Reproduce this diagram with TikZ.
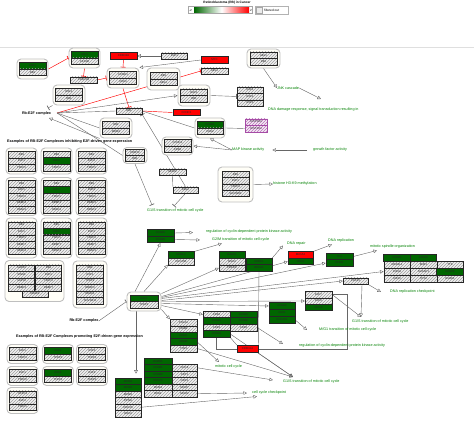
\documentclass[tikz,border=0pt]{standalone}
\usepackage{fontspec}
\setmainfont{Liberation Sans}
\usetikzlibrary{arrows.meta,patterns,calc}
\pgfdeclarelayer{bg}
\pgfsetlayers{bg,main}
\newcommand\genH[5][]{\node[hb,minimum width=#4pt,#1] (#2) at (#3) {#5};}
\newcommand\genG[5][]{\node[gb,minimum width=#4pt,#1] (#2) at (#3) {#5};}
\newcommand\genR[5][]{\node[rbx,minimum width=#4pt,#1] (#2) at (#3) {#5};}
\newcommand\genP[5][]{\node[pb,minimum width=#4pt,#1] (#2) at (#3) {#5};}
\newcommand\cpx[4]{\node[cplx,minimum width=#3pt,minimum height=#4pt] (#1) at (#2) {};}
\tikzset{
 gene/.style={draw=black!85, line width=0.3pt, inner sep=0pt, minimum height=6.5pt, font=\fontsize{2.8}{3}\selectfont, text=black!85},
 hb/.style={gene, preaction={fill=gray!12}, pattern=north east lines, pattern color=gray!75},
 gb/.style={gene, fill=green!40!black, line width=0.55pt},
 rbx/.style={gene, fill=red, line width=0.55pt},
 pb/.style={gene, draw=violet!70, preaction={fill=violet!8}, pattern=north east lines, pattern color=violet!55},
 cplx/.style={draw=gray!50, line width=0.9pt, fill=black!4!yellow!3!white, rounded corners=4pt, inner sep=0pt},
 lab/.style={text=green!50!black, font=\fontsize{3.7}{4}\selectfont, inner sep=0pt, anchor=west},
 hdr/.style={font=\bfseries\fontsize{3.7}{4}\selectfont, inner sep=0pt, anchor=west},
 con/.style={draw=black!60, line width=0.4pt},
 arr/.style={con, -{Triangle[open, length=3.5pt, width=3.5pt]}},
 inh/.style={con, -{Bar[width=5pt, line width=0.7pt]}},
 rinh/.style={draw=red, line width=0.45pt, -{Bar[width=5pt, line width=0.7pt]}},
}
\begin{document}
\begin{tikzpicture}[x=1pt,y=-1pt]
\useasboundingbox (0,0) rectangle (474,425);
% ---------- legend ----------
\node[font=\bfseries\fontsize{3.2}{3.5}\selectfont, inner sep=0pt] (title) at (227,2.5) {Retinoblastoma (RB) in Cancer};
\node[draw=gray!70, line width=0.3pt, minimum width=64pt, minimum height=7pt, inner sep=0pt] (legf) at (220,10) {};
\node[minimum width=55pt, minimum height=5pt, inner sep=0pt, left color=green!40!black, right color=red, middle color=white] (legg) at (221.5,10) {};
\node[font=\fontsize{3}{3}\selectfont, inner sep=0pt] (legl) at (190.5,10) {-2};
\node[font=\fontsize{3}{3}\selectfont, inner sep=0pt] (legr) at (251,10) {2};
\node[draw=gray!60, line width=0.3pt, minimum width=33pt, minimum height=8pt, inner sep=0pt] (fof) at (271.5,10) {};
\node[draw=gray!70, fill=gray!15, minimum width=6pt, minimum height=6pt, inner sep=0pt] (fob) at (259.5,10) {};
\node[font=\fontsize{3.2}{3.5}\selectfont, inner sep=0pt, anchor=west] (fot) at (264,10) {filtered out};
% ---------- top cluster ----------
\cpx{cA}{32.5,69}{31}{20}
\genG{a1}{32.5,65.75}{27}{FZR1}
\genH{a2}{32.5,72.25}{27}{RB1}
\cpx{cB}{84.5,58}{31}{20}
\genG{b1}{84.5,54.75}{27}{SKP2}
\genH{b2}{84.5,61.25}{27}{CKS1B}
\genH{bX}{83.5,80}{27}{CDKN1B}
\genR{rA}{123.5,56}{27}{CDKN2A}
\cpx{cC}{123,78}{32}{20}
\genH{c1}{123,74.75}{27}{CCND1}
\genH{c2}{123,81.25}{27}{CDK4}
\genH{bE}{174.5,56}{26}{E2F1}
\genR{rB}{214.5,60}{27}{MYC}
\genH{bAB}{214.5,71}{27}{ABL1}
\cpx{cD}{163.5,79}{33}{22}
\genH{d1}{163.5,75.75}{27}{RB1}
\genH{d2}{163.5,82.25}{27}{ABL1}
\cpx{cE}{194,95.5}{32}{21}
\genH{e1}{194,92.25}{27}{RAF1}
\genH{e2}{194,98.75}{27}{RB1}
\genH{s1}{250,90}{26}{E2F1}
\genH{s2}{250,96.5}{26}{E2F2}
\genH{s3}{250,103}{26}{E2F3}
\cpx{cF}{263.5,58.5}{33}{19}
\genH{f1}{263.5,55.25}{27}{ABL1}
\genH{f2}{263.5,61.75}{27}{RB1}
\genR{rC}{186.5,112.5}{27}{CCND1}
\genH{bRB}{129,111}{26}{RB1}
\cpx{cG}{210,128}{30}{20}
\genG{g1}{210,124.75}{26}{CCNE1}
\genH{g2}{210,131.25}{26}{CDK2}
\genP{p1}{256,122}{22}{HIST3H3}
\genP{p2}{256,128.5}{22}{HIST4H4}
\cpx{cH}{69,95}{32}{20}
\genH{h1}{69,91.75}{27}{RBL1}
\genH{h2}{69,98.25}{27}{RB1}
\cpx{cI}{116,128}{32}{20}
\genH{i1}{116,124.75}{27}{RB1}
\genH{i2}{116,131.25}{27}{MDM2}
\node[hdr,anchor=center] (rbl1) at (36.5,114) {Rb-E2F complex};
\coordinate (jA) at (57,113);
\coordinate (jB) at (49,118);
\coordinate (jC) at (48,108);
\cpx{cJ}{177.5,146}{31}{18}
\genH{j1}{177.5,142.75}{27}{CCND1}
\genH{j2}{177.5,149.25}{27}{CDK6}
\node[lab] (lMAP) at (232,150) {MAP kinase activity};
\node[lab] (lGF) at (313,150) {growth factor activity};
\genH{m1}{172.5,172}{27}{MDM2}
\genH{m2}{185.5,190}{25}{RBL2}
\node[lab] (lG1a) at (147,211) {G1/S transition of mitotic cell cycle};
\coordinate (tG1a) at (174,206);
\coordinate (tG1b) at (152,205);
\cpx{cPR}{135,155.5}{24}{16}
\genH[minimum height=6pt]{pr1}{135,152.5}{19}{PRMT2}
\genH[minimum height=6pt]{pr2}{135,158.5}{19}{RB1}
\cpx{cK}{235.5,184.5}{35}{35}
\genH[minimum height=6.2pt]{k1}{235.5,174.5}{27}{RB1}
\genH[minimum height=6.2pt]{k2}{235.5,180.7}{27}{E2F1}
\genH[minimum height=6.2pt]{k3}{235.5,186.9}{27}{TFDP1}
\genH[minimum height=6.2pt]{k4}{235.5,193.1}{27}{SUV39H1}
\node[lab] (lHist) at (273,184) {histone H3-K9 methylation};
\node[lab] (lJNK) at (277,88) {JNK cascade};
\coordinate (tJ) at (321,99);
\node[lab] (lDDR) at (268,110) {DNA damage response, signal transduction resulting in};
% ---------- inhibiting examples ----------
\node[hdr] (hx1) at (7,142) {Examples of RB-E2F Complexes  inhibiting E2F-driven gene expression};
\cpx{iA1}{21.5,161}{31}{26}
\genH{iA1a}{21.5,154.5}{27}{RB1}
\genH{iA1b}{21.5,161}{27}{E2F1}
\genH{iA1c}{21.5,167.5}{27}{TFDP1}
\cpx{iA2}{56.5,161}{31}{26}
\genH{iA2a}{56.5,154.5}{27}{RB1}
\genG{iA2b}{56.5,161}{27}{E2F2}
\genH{iA2c}{56.5,167.5}{27}{TFDP1}
\cpx{iA3}{91.5,161}{31}{26}
\genH{iA3a}{91.5,154.5}{27}{RB1}
\genH{iA3b}{91.5,161}{27}{E2F3}
\genH{iA3c}{91.5,167.5}{27}{TFDP1}
% row 2
\cpx{iB1}{21.5,196.5}{31}{38}
\genH{iB1a}{21.5,183.5}{27}{RB1}
\genH{iB1b}{21.5,190}{27}{E2F1}
\genH{iB1c}{21.5,196.5}{27}{TFDP1}
\genH{iB1d}{21.5,203}{27}{RBBP4}
\genH{iB1e}{21.5,209.5}{27}{HDAC1}
\cpx{iB2}{56.5,196.5}{31}{38}
\genH{iB2a}{56.5,183.5}{27}{RB1}
\genG{iB2b}{56.5,190}{27}{E2F2}
\genH{iB2c}{56.5,196.5}{27}{TFDP1}
\genH{iB2d}{56.5,203}{27}{RBBP4}
\genH{iB2e}{56.5,209.5}{27}{HDAC1}
\cpx{iB3}{91.5,196.5}{31}{38}
\genH{iB3a}{91.5,183.5}{27}{RB1}
\genH{iB3b}{91.5,190}{27}{E2F3}
\genH{iB3c}{91.5,196.5}{27}{TFDP1}
\genH{iB3d}{91.5,203}{27}{RBBP4}
\genH{iB3e}{91.5,209.5}{27}{HDAC1}
% row 3
\cpx{iC1}{21.5,238}{31}{40}
\genH{iC1a}{21.5,225}{27}{RB1}
\genH{iC1b}{21.5,231.5}{27}{E2F1}
\genH{iC1c}{21.5,238}{27}{TFDP1}
\genH{iC1d}{21.5,244.5}{27}{RBBP7}
\genH{iC1e}{21.5,251}{27}{HDAC1}
\cpx{iC2}{56.5,238}{31}{40}
\genH{iC2a}{56.5,225}{27}{RB1}
\genG{iC2b}{56.5,231.5}{27}{E2F2}
\genH{iC2c}{56.5,238}{27}{TFDP1}
\genH{iC2d}{56.5,244.5}{27}{RBBP7}
\genH{iC2e}{56.5,251}{27}{HDAC1}
\cpx{iC3}{91.5,238}{31}{40}
\genH{iC3a}{91.5,225}{27}{RB1}
\genH{iC3b}{91.5,231.5}{27}{E2F3}
\genH{iC3c}{91.5,238}{27}{TFDP1}
\genH{iC3d}{91.5,244.5}{27}{RBBP7}
\genH{iC3e}{91.5,251}{27}{HDAC1}
% row 4
\cpx{cW}{34.5,281}{59}{41}
\genH{wL1}{21.5,268}{26}{SAP30}
\genH{wL2}{21.5,274.5}{26}{SIN3A}
\genH{wL3}{21.5,281}{26}{SAP18}
\genH{wL4}{21.5,287.5}{26}{RBBP4}
\genH{wR1}{48.5,268}{26}{RB1}
\genH{wR2}{48.5,274.5}{26}{E2F1}
\genH{wR3}{48.5,281}{26}{TFDP1}
\genH{wR4}{48.5,287.5}{26}{RBBP7}
\genH{wB}{35,294}{26}{HDAC1}
\cpx{cV}{90,284.5}{34}{47}
\genH{v1}{90,268}{27}{RB1}
\genH{v2}{90,274.5}{27}{E2F1}
\genH{v3}{90,281}{27}{TFDP1}
\genH{v4}{90,287.5}{27}{RBBP4}
\genH{v5}{90,294}{27}{HDAC1}
\genH{v6}{90,300.5}{27}{SUV39H1}
% ---------- promoting examples ----------
\node[hdr] (hx2) at (16,337) {Examples of RB-E2F Complexes  promoting E2F-driven gene expression};
\cpx{pA1}{22.5,354}{31}{19}
\genH{pA1a}{22.5,350.75}{27}{E2F1}
\genH{pA1b}{22.5,357.25}{27}{TFDP1}
\cpx{pA2}{58,354}{31}{19}
\genG{pA2a}{58,350.75}{27}{E2F2}
\genH{pA2b}{58,357.25}{27}{TFDP1}
\cpx{pA3}{92,354}{31}{19}
\genH{pA3a}{92,350.75}{27}{E2F3}
\genH{pA3b}{92,357.25}{27}{TFDP1}
\cpx{pB1}{22.5,376}{31}{19}
\genH{pB1a}{22.5,372.75}{27}{E2F1}
\genH{pB1b}{22.5,379.25}{27}{TFDP2}
\cpx{pB2}{58,376}{31}{19}
\genG{pB2a}{58,372.75}{27}{E2F2}
\genH{pB2b}{58,379.25}{27}{TFDP2}
\cpx{pB3}{92,376}{31}{19}
\genH{pB3a}{92,372.75}{27}{E2F3}
\genH{pB3b}{92,379.25}{27}{TFDP2}
\cpx{pC1}{22.5,400.5}{31}{26}
\genH{pC1a}{22.5,394}{27}{HCFC1}
\genH{pC1b}{22.5,400.5}{27}{E2F1}
\genH{pC1c}{22.5,407}{27}{TFDP1}
% ---------- lower Rb-E2F complex and targets ----------
\cpx{cL}{144,301.5}{34}{19}
\genG{L1}{144,298.25}{28}{E2F1}
\genH{L2}{144,304.75}{28}{TFDP1}
\node[hdr,anchor=center] (rbl2) at (84,321) {Rb-E2F complex};
\genG{gP1}{160.5,233}{27}{CCNE1}
\genG{gP2}{160.5,239.5}{27}{CCNE2}
\node[lab] (lREG1) at (206,232) {regulation of cyclin-dependent protein kinase activity};
\node[lab] (lG2M) at (212,240) {G2/M transition of mitotic cell cycle};
\coordinate (tR1) at (193,232.5);
\coordinate (tG2) at (200,240);
\coordinate (tG2b) at (222,243.5);
\genG{mB1}{181,255}{26}{MYBL2}
\genH{mB2}{181,261.5}{26}{CDC25B}
\genG{tc1}{232,255}{26}{RAD51}
\genH{tc2}{232,261.5}{26}{MSH2}
\genH{tc3}{232,268}{26}{PRKDC}
\genG{tr1}{259,261.5}{26}{CHEK1}
\genG{tr2}{259,268}{26}{BRCA1}
\node[lab] (lDR) at (287,244) {DNA repair};
\coordinate (tDR) at (283,245.5);
\genR{rg1}{300.5,255}{25}{BRCA2}
\genG{rg2}{300.5,261.5}{25}{RFC4}
\node[lab] (lDNA) at (328,241) {DNA replication};
\coordinate (tDNA) at (332,244.5);
\genG{tk1}{339.5,256.5}{27}{TK1}
\genG{tk2}{339.5,263}{27}{DHFR}
\node[lab] (lMS) at (370,247) {mitotic spindle organization};
\coordinate (tMS) at (377,250.5);
\genG[minimum height=7pt]{gr11}{397,257.5}{26.5}{CCNB1}
\genG[minimum height=7pt]{gr12}{423.5,257.5}{26.5}{CDC20}
\genH[minimum height=7pt]{gr21}{397,264.5}{26.5}{MAD2L1}
\genH[minimum height=7pt]{gr22}{423.5,264.5}{26.5}{BUB1}
\genH[minimum height=7pt]{gr23}{450,264.5}{26.5}{TTK}
\genH[minimum height=7pt]{gr31}{397,271.5}{26.5}{KIF4A}
\genH[minimum height=7pt]{gr32}{423.5,271.5}{26.5}{NUSAP1}
\genG[minimum height=7pt]{gr33}{450,271.5}{26.5}{CENPE}
\genH[minimum height=7pt]{gr41}{397,278.5}{26.5}{KIF23}
\genH[minimum height=7pt]{gr42}{423.5,278.5}{26.5}{TPX2}
\genH[minimum height=7pt]{gr43}{450,278.5}{26.5}{BUB1B}
\genH{cdc}{355.5,281}{25}{CDC45}
\node[lab] (lDRC) at (390,292) {DNA replication checkpoint};
\coordinate (tDRC) at (381,292);
\coordinate (tG1c) at (361,317);
\node[lab] (lG1b) at (352,322) {G1/S transition of mitotic cell cycle};
\genH{e2c1}{318.5,294.5}{27}{E2F7}
\genH{e2c2}{318.5,301}{27}{E2F8}
\genG{e2c3}{318.5,307.5}{27}{CDC6}
\genG[minimum height=7pt]{g31}{282,306}{26}{CCNA2}
\genG[minimum height=7pt]{g32}{282,313}{26}{CDK1}
\genG[minimum height=7pt]{g33}{282,320}{26}{CDC25A}
\node[lab] (lMG) at (319,330) {M/G1 transition of mitotic cell cycle};
\coordinate (tMG) at (307,330);
\node[lab] (lREG2) at (299,346) {regulation of cyclin-dependent protein kinase activity};
\coordinate (tR2) at (283,344);
\genH{cMl1}{216.5,314.5}{27}{CDK2}
\genG{cMl2}{216.5,321}{27}{CCNE1}
\genH{cMl3}{216.5,327.5}{27}{CDK3}
\genG{cMl4}{216.5,334}{27}{CCNA1}
\genG{cMr1}{243.5,314.5}{27}{CCNE2}
\genG{cMr2}{243.5,321}{27}{CCNB2}
\genH{cMr3}{243.5,327.5}{27}{CDK6}
\genR[minimum height=7.5pt]{rD}{247.5,349}{21}{CDKN1A}
\genH{c51}{183.5,322.5}{27}{POLA1}
\genH{c52}{183.5,329}{27}{PRIM1}
\genG{c53}{183.5,335.5}{27}{RRM1}
\genG{c54}{183.5,342}{27}{RRM2}
\genH{c55}{183.5,348.5}{27}{TYMS}
\node[lab] (lMC) at (215,367) {mitotic cell cycle};
\coordinate (tMC) at (219,362);
\node[lab] (lG1c) at (283,382) {G1/S transition of mitotic cell cycle};
\coordinate (tG1d) at (293,377);
\coordinate (tG1e) at (273,380);
\genG{cNl1}{158,361.25}{28}{BUB1B}
\genG{cNl2}{158,367.75}{28}{CCNB1}
\genG{cNl3}{158,374.25}{28}{CCNB2}
\genG{cNl4}{158,380.75}{28}{CDC20}
\genH{cNl5}{158,387.25}{28}{MCM3}
\genH{cNl6}{158,393.75}{28}{RPA1}
\genH{cNr2}{184.5,367.75}{25}{CDC6}
\genH{cNr3}{184.5,374.25}{25}{CDT1}
\genH{cNr4}{184.5,380.75}{25}{ORC1}
\genH{cNr5}{184.5,387.25}{25}{MCM7}
\genH{cNr6}{184.5,393.75}{25}{MCM2}
\node[lab] (lCC) at (252,393) {cell cycle checkpoint};
\coordinate (tCC) at (247,393);
\coordinate (tCC2) at (257,396.5);
\genG{b61}{128,381.25}{26}{MCM4}
\genG{b62}{128,387.75}{26}{MCM5}
\genH{b63}{128,394.25}{26}{MCM6}
\genH{b64}{128,400.75}{26}{PCNA}
\genH{b65}{128,407.25}{26}{CDC45}
\genH{b66}{128,413.75}{26}{ORC2}
% ---------- connectors ----------
\begin{pgfonlayer}{bg}
\draw[gray!25, line width=0.5pt] (0,47) -- (474,47);
\draw[rinh] (cA.east) -- (cB.west);
\draw[rinh] (cB.south) -- (bX.north);
\draw[rinh] (bX.east) -- (cC.west);
\draw[rinh] (rA.south) -- (cC.north);
\draw[rinh] (cC.south) -- (bRB.north);
\draw[arr] (bE.west) -- (rA.east);
\draw[arr] (rB.west) -- (cC.north east);
\draw[rinh] (jA) -- (bAB.west);
\draw[con] (jA) -- (bRB.west);
\draw[arr] (jA) -- (cE.west);
\draw[con] (jA) -- (cI.west);
\draw[con] (jA) -- (cPR.west);
\draw[arr] (cI.south west) -- (jB);
\draw[inh] (cH.south west) -- (jC);
\draw[rinh] (rC.west) -- (bRB.east);
\draw[con] (bRB.east) -- (cG.west);
\draw[inh] (cE.east) -- (s2.west);
\draw[arr] (cF.south) -- (lJNK.west);
\draw[arr] (lJNK.east) -- (tJ);
\draw[con] (cG.east) -- (p2.west);
\draw[arr] (lMAP.west) -- (cJ.east);
\draw[arr] (lMAP.west) -- (cG.south);
\draw[arr, shorten <=6pt, shorten >=8pt] (lGF.west) -- (lMAP.east);
\draw[inh] (m2.north) -- (bRB.south east);
\draw[con] (m1.south) -- (m2.north west);
\draw[inh] (m2.south) -- (tG1a);
\draw[inh] (cPR.south) -- (tG1b);
\draw[arr] (cK.east) -- (lHist.west);
% lower fan
\draw[arr] ($(cL.north)+(-9,0)$) -- (gP2.south);
\draw[arr] (cL.north) -- (mB2.south west);
\draw[arr] ($(cL.north east)+(0,2)$) -- (tc3.west);
\draw[arr] ($(cL.east)+(0,-5)$) -- (rg2.west);
\draw[arr] ($(cL.east)+(0,-4)$) -- (tk2.west);
\draw[arr] ($(cL.east)+(0,-3)$) -- (gr31.west);
\draw[arr] ($(cL.east)+(0,-1)$) -- (cdc.west);
\draw[arr] (cL.east) -- (e2c2.west);
\draw[arr] ($(cL.east)+(0,2)$) -- (g31.west);
\draw[arr] ($(cL.east)+(0,4)$) -- (cMl1.west);
\draw[arr] ($(cL.south east)+(0,-2)$) -- (c51.north west);
\draw[arr] ($(cL.south)+(-8,0)$) -- ($(b61.north)+(8,-4)$);
\draw[inh] (rbl2.east) -- (cL.west);
\draw[arr] (gP1.east) -- (tR1);
\draw[arr] (gP2.east) -- (tG2);
\draw[arr] (mB1.north east) -- (tG2b);
\draw[arr] (tr1.north east) -- (tDR);
\draw[arr] (rg1.north east) -- (tDNA);
\draw[arr] (tk1.east) -- (tMS);
\draw[arr] (cdc.south east) -- (tDRC);
\draw[arr] ($(cdc.south)+(6.5,0)$) -- (tG1c);
\draw[arr] (e2c1.east) -- (tG1c);
\draw[con] (rD.east) -- (347,349) -- (347,294.5) -- (e2c1.east);
\draw[arr] (g33.east) -- (tMG);
\draw[arr] (cMr3.east) -- (tR2);
\draw[con] (cMl4.south) -- (cMl4.south |- rD.west) -- (rD.west);
\draw[con] (cMl4.south east) -- (rD.north west);
\draw[con] (tr2.south) -- (rD.north east);
\draw[arr] (rD.south east) -- (tG1d);
\draw[arr] (c54.east) -- (tMC);
\draw[arr] (c55.east) -- (tG1d);
\draw[arr] (cMl4.east) -- (tG1d);
\draw[arr] (cNr2.east) -- (tG1e);
\draw[arr] (cNr6.east) -- (tCC);
\draw[arr] (b65.east) -- (tCC2);
\end{pgfonlayer}
\end{tikzpicture}
\end{document}
